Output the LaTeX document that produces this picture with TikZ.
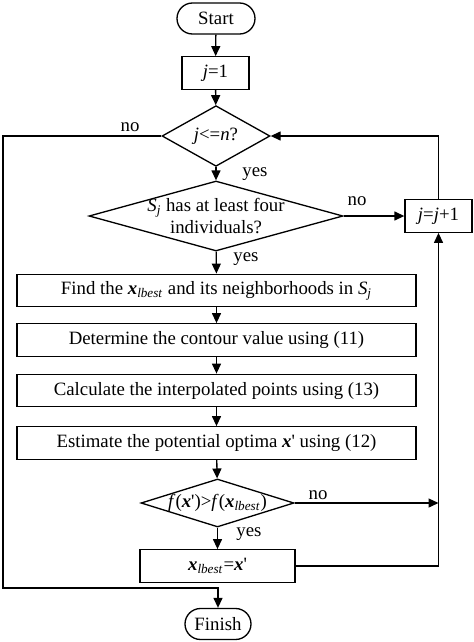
\documentclass[tikz,border=0pt]{standalone}
\usepackage{fontspec}
\setmainfont{Liberation Serif}
\usepackage{tikz}
\usetikzlibrary{positioning,arrows.meta,shapes.geometric}

\newcommand{\xlb}{\textbf{\textit{x}}\textsubscript{\textit{lbest}}}
\newcommand{\xp}{\textbf{\textit{x}}\textquotesingle}

\begin{document}
\begin{tikzpicture}[font=\fontsize{10.7}{12.5}\selectfont, line width=0.75pt,
  box/.style={draw, rectangle, minimum height=0.65cm, inner sep=1pt},
  term/.style={draw, rectangle, rounded corners=0.31cm, minimum height=0.62cm, minimum width=1.4cm},
  dec/.style={draw, diamond, inner sep=0pt},
  arr/.style={-{Triangle[length=0.2cm, width=0.18cm]}},
  lab/.style={inner sep=1pt}]
\useasboundingbox (0,0) rectangle (9.48,-12.84);
% main column
\node[term, minimum width=1.56cm] (start) at (4.32,-0.37) {Start};
\node[box, minimum width=1.34cm] (j1) at (4.31,-1.46) {\textit{j}=1};
\node[dec, minimum width=2.16cm, minimum height=0.92cm] (d1) at (4.32,-2.72) {\textit{j}<=\textit{n}?};
\node[dec, minimum width=5.08cm, minimum height=1.4cm,
  label={[align=center, inner sep=0pt]center:\textit{S}\textsubscript{\textit{j}} has at least four\\individuals?}] (d2) at (4.32,-4.32) {};
\node[box, minimum width=1.34cm] (jj) at (8.77,-4.32) {\textit{j}=\textit{j}+1};
\node[box, minimum width=7.98cm] (find) at (4.33,-5.81) {Find the \xlb{} and its neighborhoods in \textit{S}\textsubscript{\textit{j}}};
\node[box, minimum width=7.98cm] (det) at (4.33,-6.80) {Determine the contour value using (11)};
\node[box, minimum width=7.98cm] (calc) at (4.33,-7.81) {Calculate the interpolated points using (13)};
\node[box, minimum width=7.98cm] (est) at (4.33,-8.86) {Estimate the potential optima \xp{} using (12)};
\node[dec, minimum width=3.06cm, minimum height=0.96cm,
  label={[inner sep=0pt]center:\textit{f}(\xp)>\textit{f}(\xlb)}] (d3) at (4.35,-10.06) {};
\node[box, minimum width=3.10cm] (xl) at (4.35,-11.32) {\xlb=\xp};
\node[term, minimum width=1.32cm] (finish) at (4.36,-12.48) {Finish};
% corner points of the loops
\coordinate (rtop) at (8.77,-2.72);
\coordinate (rmid) at (8.77,-10.06);
\coordinate (rbot) at (8.77,-11.32);
\coordinate (ltop) at (0.06,-2.72);
\coordinate (lbot) at (0.06,-11.76);
\coordinate (fbot) at (4.36,-11.76);
% labels
\node[lab] (no1) at (2.6,-2.54) {no};
\node[lab] (yes1) at (5.1,-3.48) {yes};
\node[lab] (no2) at (7.14,-4.02) {no};
\node[lab] (yes2) at (4.92,-5.18) {yes};
\node[lab] (no3) at (6.36,-9.9) {no};
\node[lab] (yes3) at (4.98,-10.68) {yes};
% connectors
\draw[arr] (start) -- (j1);
\draw[arr] (j1) -- (d1);
\draw[arr] (d1) -- (d2);
\draw[arr] (d2) -- (find);
\draw[arr] (find) -- (det);
\draw[arr] (det) -- (calc);
\draw[arr] (calc) -- (est);
\draw[arr] (est) -- (d3);
\draw[arr] (d3) -- (xl);
\draw[arr] (d2.east) -- (jj.west);
\draw[arr] (d3.east) -- (rmid);
\draw[arr] (xl.east) -- (rbot) -- (jj.south);
\draw[arr] (jj.north) -- (rtop) -- (d1.east);
\draw[arr] (d1.west) -- (ltop) -- (lbot) -- (fbot) -- (finish.north);
\end{tikzpicture}
\end{document}
